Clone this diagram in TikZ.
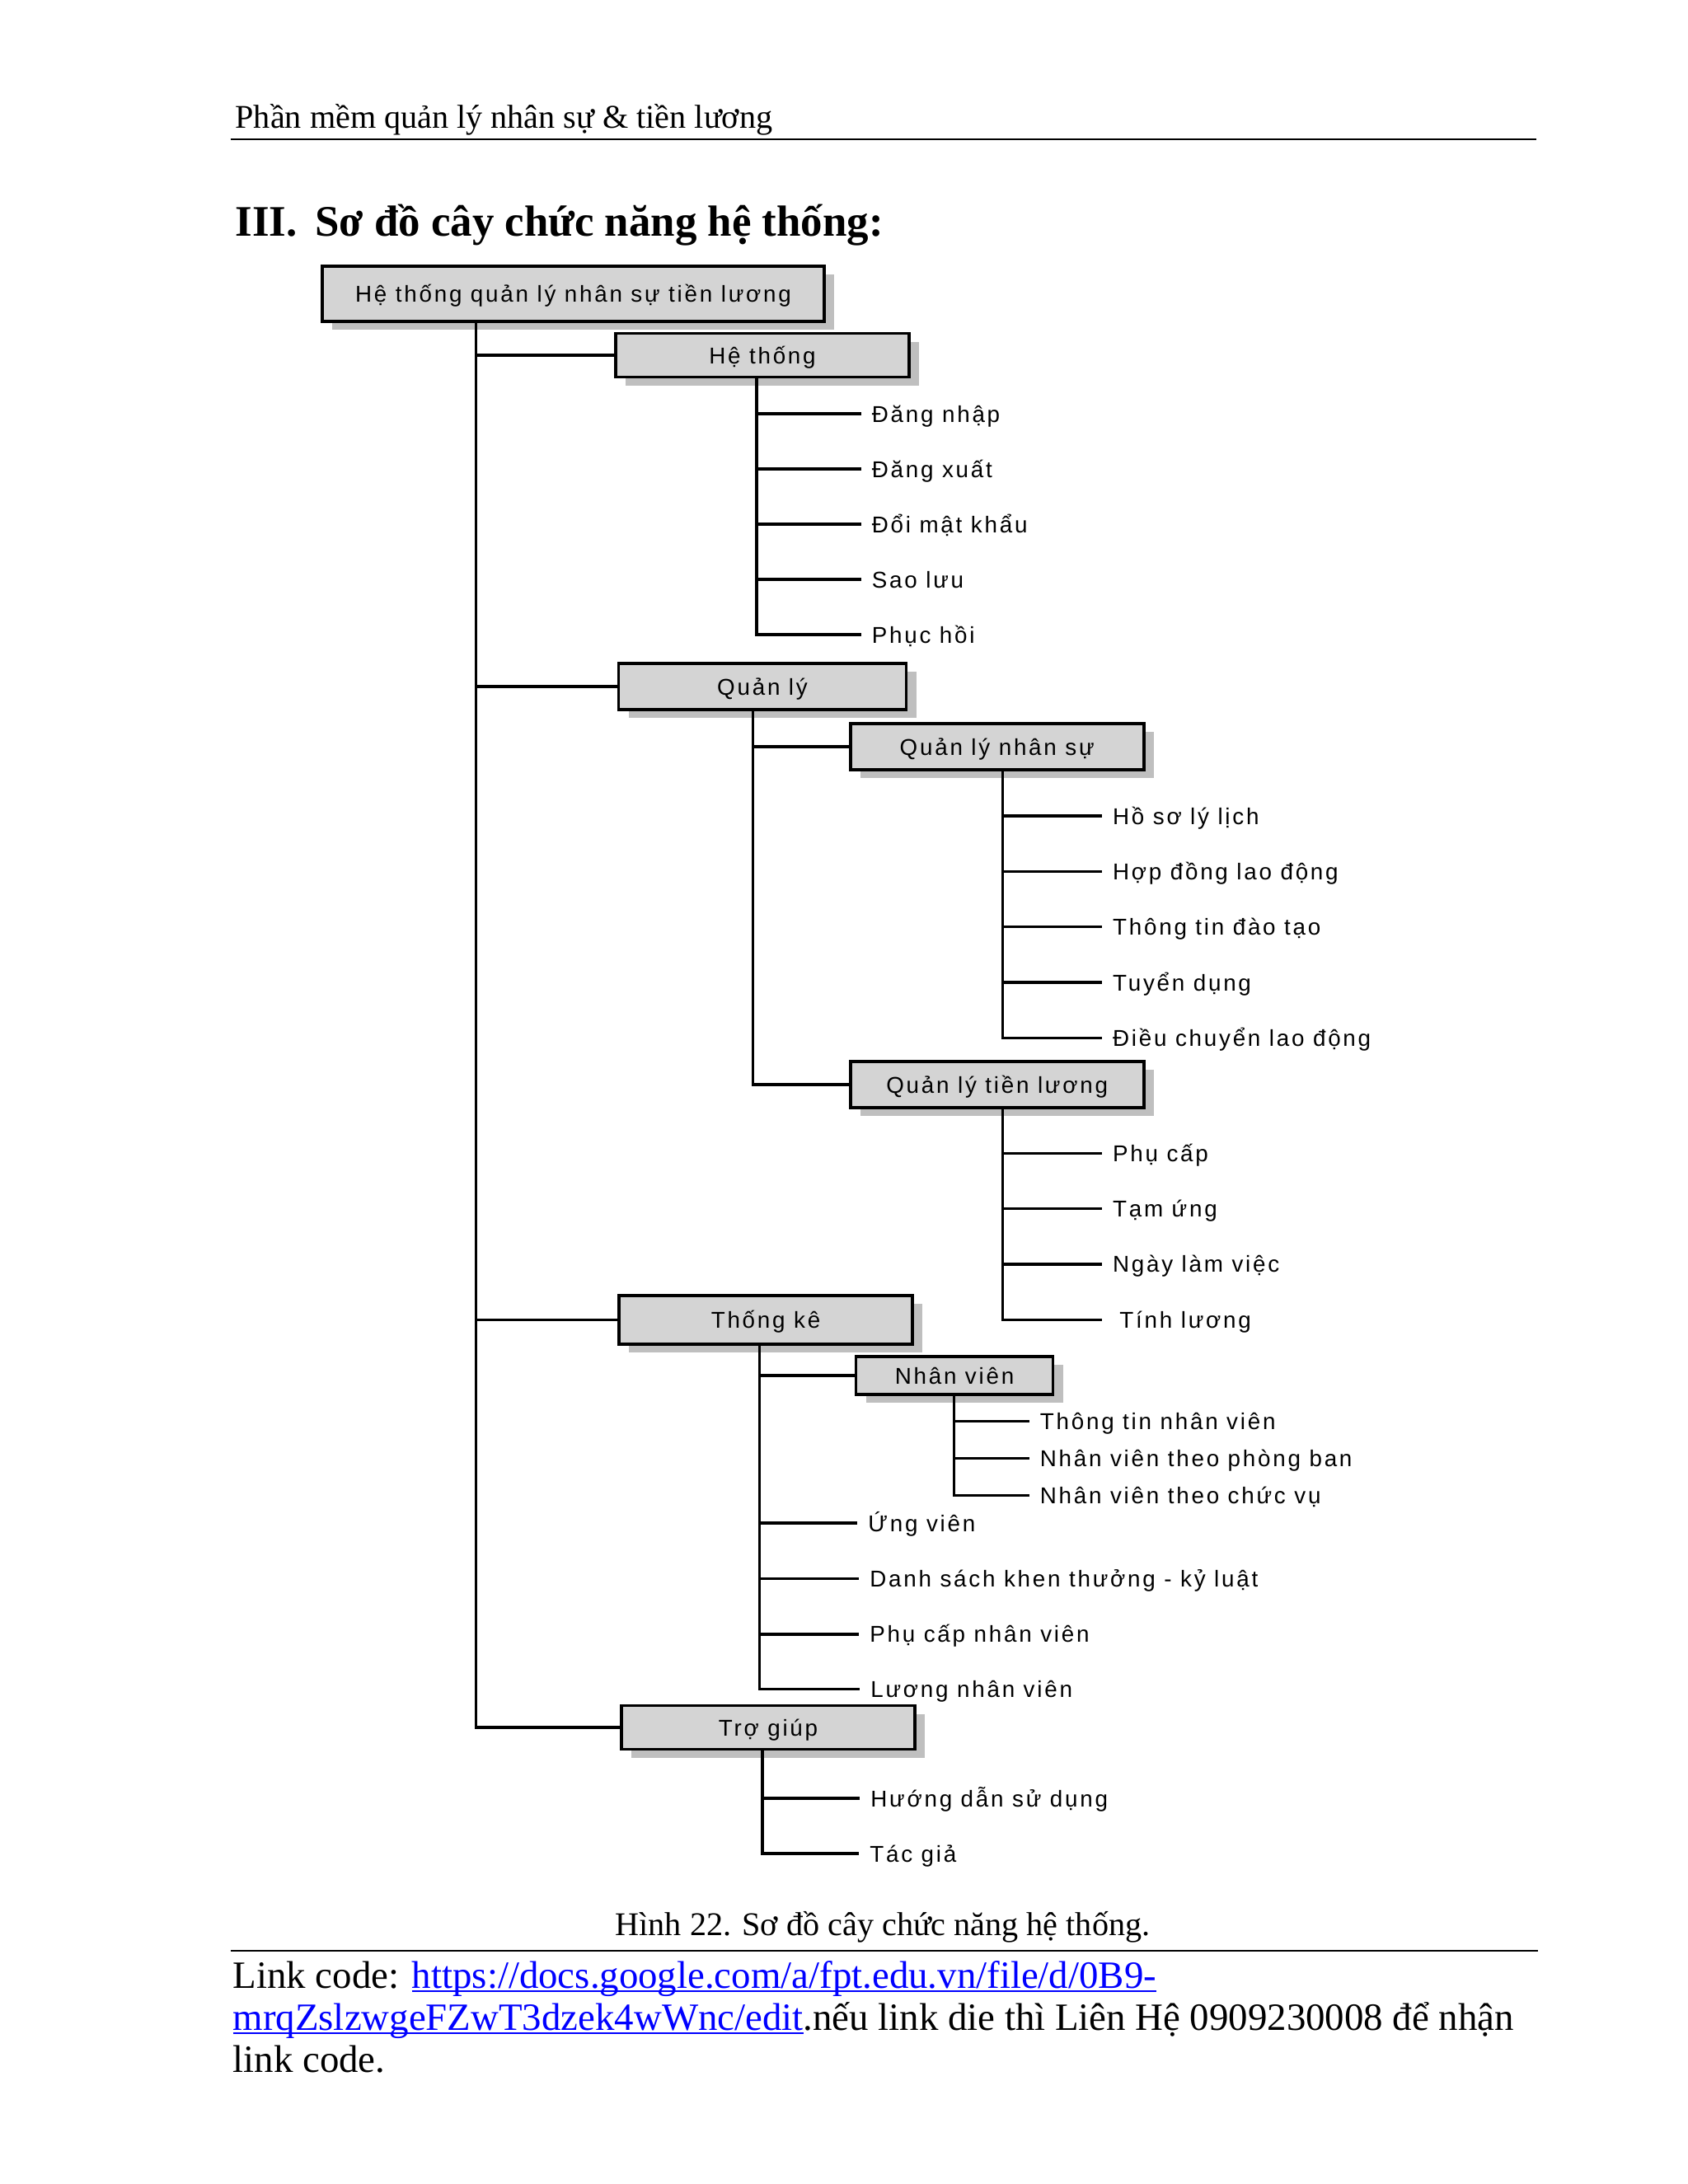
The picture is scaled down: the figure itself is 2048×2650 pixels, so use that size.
\documentclass[tikz,border=0pt]{standalone}
\usepackage{fontspec}
\setmainfont{Liberation Serif}
\newfontfamily\diagfont{Liberation Sans}[LetterSpace=10]
\usetikzlibrary{shadows}
\newcommand\px{0.29883pt}
\newcommand\linkul[1]{\setbox0\hbox{#1}\rlap{\rule[-1.6pt]{\wd0}{0.7pt}}\box0}

\begin{document}
\begin{tikzpicture}[x=\px,y=-\px,
  box/.style={draw,line width=1.1pt,fill=black!17,inner sep=0pt,
    text height=6pt,text depth=0pt,font=\diagfont\fontsize{8.3pt}{9pt}\selectfont,
    drop shadow={shadow xshift=3.6pt,shadow yshift=-3pt,fill=black!25,opacity=1}},
  leaf/.style={anchor=west,inner xsep=3.8pt,inner ysep=0pt,
    text height=6pt,text depth=0pt,font=\diagfont\fontsize{8.3pt}{9pt}\selectfont},
  link/.style={line width=0.95pt},
  page/.style={anchor=base west,inner sep=0pt}]
\useasboundingbox (0,0) rectangle (2048,2650);

% page head
\node[page,font=\fontsize{12pt}{14pt}\selectfont] (head) at (285,155) {Phần mềm quản lý nhân sự \& tiền lương};
\draw[line width=0.8pt] (279.5,169) -- (1864,169);
\node[page,font=\bfseries\fontsize{15.8pt}{18pt}\selectfont] (title) at (285,286) {III.\hspace{2.5pt} Sơ đồ cây chức năng hệ thống:};

% boxes
\node[box,minimum width=609*\px,minimum height=67*\px] (root) at (695.5,356.5) {Hệ thống quản lý nhân sự tiền lương};
\node[box,minimum width=356*\px,minimum height=53*\px] (hethong) at (925,431) {Hệ thống};
\node[box,minimum width=349*\px,minimum height=56*\px] (quanly) at (925,833) {Quản lý};
\node[box,minimum width=356*\px,minimum height=56*\px] (qlns) at (1209.7,906) {Quản lý nhân sự};
\node[box,minimum width=356*\px,minimum height=56*\px] (qltl) at (1209.7,1316) {Quản lý tiền lương};
\node[box,minimum width=356*\px,minimum height=59*\px] (thongke) at (929,1601.4) {Thống kê};
\node[box,minimum width=239*\px,minimum height=45.5*\px] (nhanvien) at (1158,1669) {Nhân viên};
\node[box,minimum width=356*\px,minimum height=53*\px] (trogiup) at (932,2096) {Trợ giúp};

% leaves
\node[leaf] (ht1) at (1044.5,502) {Đăng nhập};
\node[leaf] (ht2) at (1044.5,569) {Đăng xuất};
\node[leaf] (ht3) at (1044.5,636) {Đổi mật khẩu};
\node[leaf] (ht4) at (1044.5,703) {Sao lưu};
\node[leaf] (ht5) at (1044.5,770) {Phục hồi};

\node[leaf] (ns1) at (1336.7,990) {Hồ sơ lý lịch};
\node[leaf] (ns2) at (1336.7,1057.3) {Hợp đồng lao động};
\node[leaf] (ns3) at (1336.7,1124.7) {Thông tin đào tạo};
\node[leaf] (ns4) at (1336.7,1192) {Tuyển dụng};
\node[leaf] (ns5) at (1336.7,1259.4) {Điều chuyển lao động};

\node[leaf] (tl1) at (1336.7,1399.7) {Phụ cấp};
\node[leaf] (tl2) at (1336.7,1466.5) {Tạm ứng};
\node[leaf] (tl3) at (1336.7,1533.9) {Ngày làm việc};
\node[leaf,inner xsep=6.3pt] (tl4) at (1336.7,1601.2) {Tính lương};

\node[leaf] (nv1) at (1248.5,1724.4) {Thông tin nhân viên};
\node[leaf] (nv2) at (1248.5,1769.5) {Nhân viên theo phòng ban};
\node[leaf] (nv3) at (1248.5,1814.1) {Nhân viên theo chức vụ};

\node[leaf] (tk1) at (1040,1848) {Ứng viên};
\node[leaf] (tk2) at (1042,1915.4) {Danh sách khen thưởng - kỷ luật};
\node[leaf] (tk3) at (1042,1982.9) {Phụ cấp nhân viên};
\node[leaf] (tk4) at (1043,2049.8) {Lương nhân viên};

\node[leaf] (tg1) at (1043,2182) {Hướng dẫn sử dụng};
\node[leaf] (tg2) at (1042,2249) {Tác giả};

% buses
\coordinate (rootbus) at (577.7,0);
\coordinate (htbus) at (918,0);
\coordinate (qlbus) at (913.9,0);
\coordinate (nsbus) at (1216.8,0);
\coordinate (tkbus) at (921.3,0);
\coordinate (nvbus) at (1157.9,0);
\coordinate (tgbus) at (925,0);

% connectors
\draw[link] (rootbus |- root.south) |- (trogiup.west);
\draw[link] (rootbus |- hethong.west) -- (hethong.west);
\draw[link] (rootbus |- quanly.west) -- (quanly.west);
\draw[link] (rootbus |- thongke.west) -- (thongke.west);

\draw[link] (htbus |- hethong.south) |- (ht5.west);
\draw[link] (htbus |- ht1.west) -- (ht1.west);
\draw[link] (htbus |- ht2.west) -- (ht2.west);
\draw[link] (htbus |- ht3.west) -- (ht3.west);
\draw[link] (htbus |- ht4.west) -- (ht4.west);

\draw[link] (qlbus |- quanly.south) |- (qltl.west);
\draw[link] (qlbus |- qlns.west) -- (qlns.west);

\draw[link] (nsbus |- qlns.south) |- (ns5.west);
\draw[link] (nsbus |- ns1.west) -- (ns1.west);
\draw[link] (nsbus |- ns2.west) -- (ns2.west);
\draw[link] (nsbus |- ns3.west) -- (ns3.west);
\draw[link] (nsbus |- ns4.west) -- (ns4.west);

\draw[link] (nsbus |- qltl.south) |- (tl4.west);
\draw[link] (nsbus |- tl1.west) -- (tl1.west);
\draw[link] (nsbus |- tl2.west) -- (tl2.west);
\draw[link] (nsbus |- tl3.west) -- (tl3.west);

\draw[link] (tkbus |- thongke.south) |- (tk4.west);
\draw[link] (tkbus |- nhanvien.west) -- (nhanvien.west);
\draw[link] (tkbus |- tk1.west) -- (tk1.west);
\draw[link] (tkbus |- tk2.west) -- (tk2.west);
\draw[link] (tkbus |- tk3.west) -- (tk3.west);

\draw[link] (nvbus |- nhanvien.south) |- (nv3.west);
\draw[link] (nvbus |- nv1.west) -- (nv1.west);
\draw[link] (nvbus |- nv2.west) -- (nv2.west);

\draw[link] (tgbus |- trogiup.south) |- (tg2.west);
\draw[link] (tgbus |- tg1.west) -- (tg1.west);

% caption and foot
\node[anchor=base,inner sep=0pt,font=\fontsize{12pt}{14pt}\selectfont] (caption) at (1071,2348) {Hình 22. Sơ đồ cây chức năng hệ thống.};
\draw[line width=0.8pt] (279.5,2367) -- (1866,2367);
\node[page,font=\fontsize{14pt}{16pt}\selectfont] (link1) at (282,2412) {Link code: {\color{blue}\linkul{https://docs.google.com/a/fpt.edu.vn/file/d/0B9-}}};
\node[page,font=\fontsize{14pt}{16pt}\selectfont] (link2) at (282,2463) {\makebox[464.4pt][s]{{\color{blue}\linkul{mrqZslzwgeFZwT3dzek4wWnc/edit}}.nếu link die thì Liên Hệ 0909230008 để nhận}};
\node[page,font=\fontsize{14pt}{16pt}\selectfont] (link3) at (282,2514) {link code.};
\end{tikzpicture}
\end{document}
